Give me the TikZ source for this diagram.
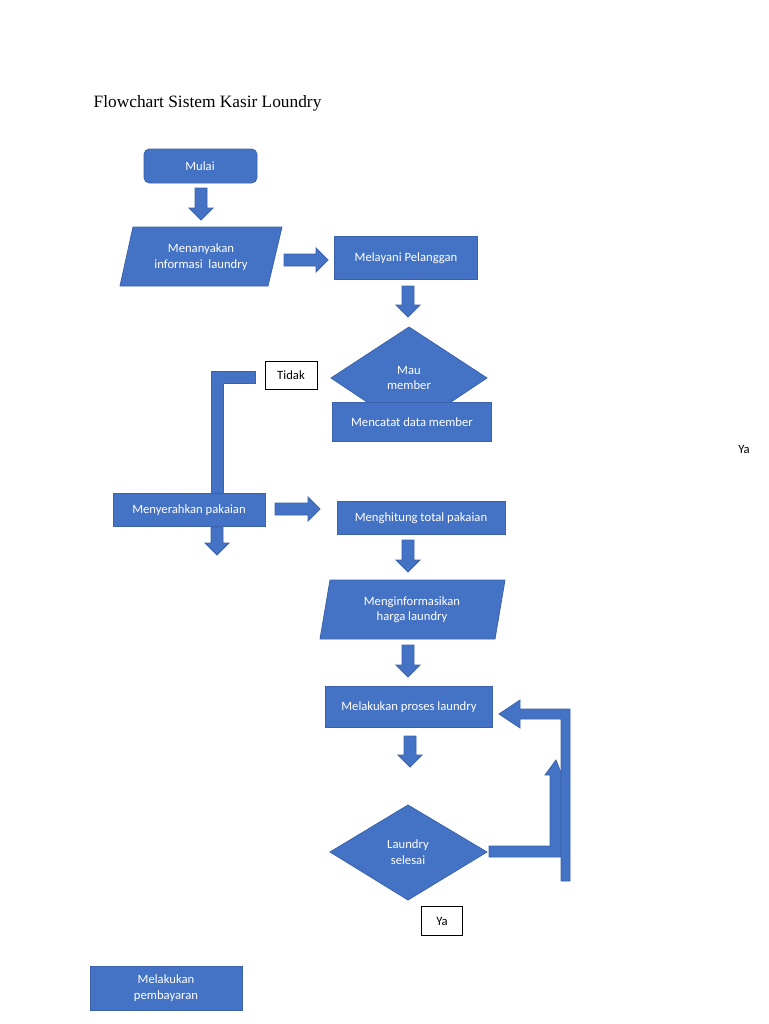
\documentclass[tikz,border=0pt]{standalone}
\usepackage{fontspec}
\setmainfont{Carlito}
\newfontfamily\titlefont{Liberation Serif}
\usetikzlibrary{shapes.geometric}
\definecolor{blu}{HTML}{4472C4}
\definecolor{bld}{HTML}{3B63AD}
\begin{document}
\begin{tikzpicture}[x=0.75pt,y=-0.75pt,
  box/.style={fill=blu,draw=bld,line width=0.6pt,text=white,font=\fontsize{9.5}{11.5}\selectfont,align=center},
  lbl/.style={draw=black,fill=white,line width=0.5pt,font=\fontsize{9.5}{11}\selectfont},
  blk/.style={fill=blu,draw=bld,line width=0.6pt}]
\useasboundingbox (0,0) rectangle (768,1024);
\newcommand\darr[3]{\draw[blk] (#1-6,#2) -- (#1+6,#2) -- (#1+6,#3-12) -- (#1+12,#3-12) -- (#1,#3) -- (#1-12,#3-12) -- (#1-6,#3-12) -- cycle;}
\newcommand\rarr[3]{\draw[blk] (#1,#3-6) -- (#2-12,#3-6) -- (#2-12,#3-12) -- (#2,#3) -- (#2-12,#3+12) -- (#2-12,#3+6) -- (#1,#3+6) -- cycle;}
\node[anchor=west,font=\titlefont\fontsize{13}{15}\selectfont] (title) at (89,103) {Flowchart Sistem Kasir Loundry};
% shapes
\draw[box,rounded corners=4pt] (144,149) rectangle (257,183);
\node[text=white,font=\fontsize{9.5}{11}\selectfont] (mulai) at (200,166) {Mulai};
\darr{201}{188}{220}
\draw[box] (133,227) -- (282,227) -- (268,286) -- (120,286) -- cycle;
\node[box,draw=none,fill=none] (tanya) at (201,257) {Menanyakan\\informasi\ \ laundry};
\rarr{284}{328}{260}
\node[box,minimum width=143\pgflinewidth,minimum width=107pt,minimum height=32pt] (layani) at (406,258) {Melayani Pelanggan};
\darr{408}{286}{317}
\draw[box] (409,327) -- (487,378) -- (409,430) -- (331,378) -- cycle;
\node[text=white,align=center,font=\fontsize{9.5}{11.5}\selectfont] (mau) at (409,378) {Mau\\member};
\node[box,minimum width=119pt,minimum height=29pt] (catat) at (412,422) {Mencatat data member};
\node[lbl,minimum width=39pt,minimum height=21pt] (tidak) at (291,375) {Tidak};
\node[font=\fontsize{9.5}{11}\selectfont] (ya1) at (744,449) {Ya};
% L arrow
\draw[blk] (255,371) -- (255,383) -- (223,383) -- (223,493) -- (211,493) -- (211,371) -- cycle;
\node[box,minimum width=114pt,minimum height=25pt] (serah) at (189,510) {Menyerahkan pakaian};
\darr{217}{527}{555}
\rarr{275}{320}{509}
\node[box,minimum width=126pt,minimum height=25pt] (hitung) at (421,518) {Menghitung total pakaian};
\darr{408}{540}{572}
\draw[box] (330,580) -- (505,580) -- (495,639) -- (320,639) -- cycle;
\node[text=white,align=center,font=\fontsize{9.5}{11.5}\selectfont] (info) at (412,610) {Menginformasikan\\harga laundry};
\darr{408}{645}{677}
\node[box,minimum width=125pt,minimum height=31pt] (proses) at (409,707) {Melakukan proses laundry};
\darr{410}{736}{767}
\draw[box] (408,805) -- (487,852) -- (408,900) -- (330,852) -- cycle;
\node[text=white,align=center,font=\fontsize{9.5}{11.5}\selectfont] (selesai) at (408,852) {Laundry\\selesai};
% loop
\draw[blk] (489,846) -- (550,846) -- (550,775) -- (545,775) -- (556,760) -- (562,775) -- (561,775) -- (561,857) -- (489,857) -- cycle;
\draw[blk] (561,881) -- (561,719) -- (520,719) -- (520,728) -- (499,714) -- (520,700) -- (520,709) -- (570,709) -- (570,881) -- cycle;
\node[lbl,minimum width=31pt,minimum height=22pt] (ya2) at (442,921) {Ya};
\node[box,minimum width=114pt,minimum height=33pt] (bayar) at (166,988) {Melakukan\\pembayaran};
\end{tikzpicture}
\end{document}
